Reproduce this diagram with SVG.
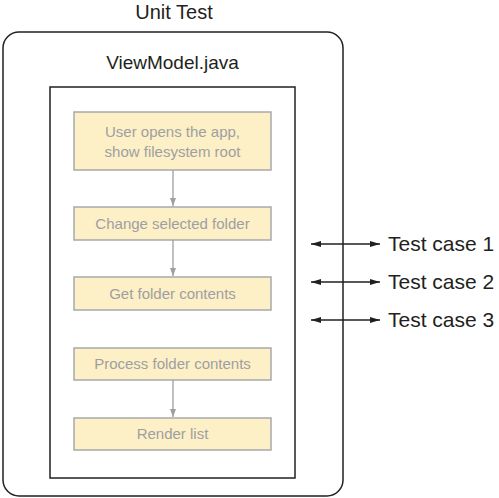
<svg xmlns="http://www.w3.org/2000/svg" width="499" height="498" viewBox="0 0 499 498">
<style>
.title{font-family:"Liberation Sans",Arial,sans-serif;fill:#231f20;text-anchor:middle}
.step rect{fill:#fdefc6;stroke:#a7a9ac;stroke-width:1.5}
.step text{font-family:"Liberation Sans",Arial,sans-serif;font-size:15px;fill:#9d9fa2;text-anchor:middle}
.flow{stroke:#9d9fa2;stroke-width:1.3;fill:none}
.tc{stroke:#231f20;stroke-width:1.3;fill:none}
.label{font-family:"Liberation Sans",Arial,sans-serif;font-size:21px;fill:#231f20}
</style>
<defs>
<marker id="ga" viewBox="0 0 8 6" refX="8" refY="3" markerWidth="8" markerHeight="6" markerUnits="userSpaceOnUse" orient="auto">
<path d="M0,0 L8,3 L0,6 Z" fill="#9d9fa2"/>
</marker>
<marker id="ba" viewBox="0 0 10 6" refX="10" refY="3" markerWidth="10" markerHeight="6" markerUnits="userSpaceOnUse" orient="auto-start-reverse">
<path d="M0,0 L10,3 L0,6 Z" fill="#231f20"/>
</marker>
</defs>
<rect width="499" height="498" fill="#fff"/>
<g id="unit-test">
<rect x="3" y="32" width="340" height="464" rx="16" fill="none" stroke="#231f20" stroke-width="1.5"/>
<text class="title" x="174" y="19" font-size="20">Unit Test</text>
</g>
<g id="viewmodel">
<rect x="50" y="87" width="245" height="391" fill="none" stroke="#231f20" stroke-width="1.5"/>
<text class="title" x="172.5" y="69" font-size="19">ViewModel.java</text>
</g>
<g id="step1" class="step">
<rect x="74" y="112" width="197" height="58"/>
<text x="172.5" y="137">User opens the app,</text>
<text x="172.5" y="157">show filesystem root</text>
</g>
<g id="step2" class="step">
<rect x="74" y="207" width="197" height="33"/>
<text x="172.5" y="229">Change selected folder</text>
</g>
<g id="step3" class="step">
<rect x="74" y="277" width="197" height="33"/>
<text x="172.5" y="299">Get folder contents</text>
</g>
<g id="step4" class="step">
<rect x="74" y="348" width="197" height="32"/>
<text x="172.5" y="369">Process folder contents</text>
</g>
<g id="step5" class="step">
<rect x="74" y="418" width="197" height="32"/>
<text x="172.5" y="439">Render list</text>
</g>
<g id="test-case-1"><text class="label" x="388" y="251">Test case 1</text></g>
<g id="test-case-2"><text class="label" x="388" y="289">Test case 2</text></g>
<g id="test-case-3"><text class="label" x="388" y="327">Test case 3</text></g>
<g id="connectors">
<line class="flow" x1="173" y1="170" x2="173" y2="206" marker-end="url(#ga)"/>
<line class="flow" x1="173" y1="240" x2="173" y2="276" marker-end="url(#ga)"/>
<line class="flow" x1="173" y1="380" x2="173" y2="417" marker-end="url(#ga)"/>
<line class="tc" x1="311" y1="244" x2="380" y2="244" marker-start="url(#ba)" marker-end="url(#ba)"/>
<line class="tc" x1="311" y1="282" x2="380" y2="282" marker-start="url(#ba)" marker-end="url(#ba)"/>
<line class="tc" x1="311" y1="320" x2="380" y2="320" marker-start="url(#ba)" marker-end="url(#ba)"/>
</g>
</svg>
